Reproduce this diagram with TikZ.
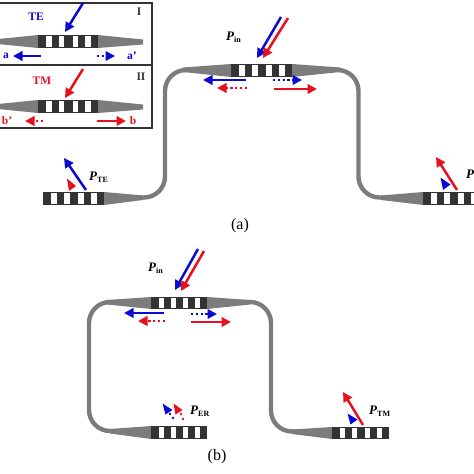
\documentclass[tikz,border=0pt]{standalone}
\usepackage{xcolor}
\usepackage{fontspec}
\setmainfont{Liberation Serif}
\usetikzlibrary{arrows.meta, positioning}
\definecolor{beamte}{HTML}{0A0AD2}
\definecolor{beamtm}{HTML}{E6101E}
\definecolor{guide}{HTML}{7C7C7C}
\definecolor{barcol}{HTML}{333333}
% grating coupler: left x, top y, width, height
\newcommand{\grating}[4]{
  \fill[barcol] (#1,#2) rectangle ++(#3,#4);
  \foreach \slot in {0.135,0.35,0.575,0.79}
    \fill[white] ({#1+\slot*#3},{#2+1}) rectangle ++({0.09*#3},{#4-2});
}
\newcommand{\plabel}[1]{\textbf{\textit{P}}\raisebox{-2.5pt}{\fontsize{8}{9}\selectfont\textbf{#1}}}
\begin{document}
\begin{tikzpicture}[
    x=1pt, y=-1pt,
    taper/.style={fill=guide},
    wave/.style={draw=guide, line width=4.4pt, rounded corners=21pt},
    arrowte/.style={-{Triangle[length=9.5pt,width=9.5pt]}, line width=2.5pt, color=beamte},
    arrowtm/.style={-{Triangle[length=9.5pt,width=9.5pt]}, line width=2.5pt, color=beamtm},
    dotte/.style={arrowte, dash pattern=on 2.2pt off 2.6pt},
    dottm/.style={arrowtm, dash pattern=on 2.2pt off 2.6pt},
    frameline/.style={draw=barcol, line width=1.6pt},
    tag/.style={font=\fontsize{11.5}{13}\selectfont\bfseries, inner sep=0pt},
    plab/.style={font=\fontsize{13}{15}\selectfont, inner sep=0pt},
    caption/.style={font=\fontsize{16}{18}\selectfont, inner sep=0pt}
  ]
    \useasboundingbox (0,0) rectangle (474,474);

    % inset
    \draw[frameline] (-2,3) -- (152,3) -- (152,128) -- (-2,128);
    \draw[frameline] (-2,65) -- (152,65);
    \fill[taper] (38,35) -- (-2,39) -- (-2,44) -- (38,48) -- cycle;
    \fill[taper] (98,35) -- (143,39.5) -- (143,44.5) -- (98,48) -- cycle;
    \grating{38}{35}{60}{13}
    \fill[taper] (38,100) -- (-2,104) -- (-2,109) -- (38,113) -- cycle;
    \fill[taper] (98,100) -- (143,104.5) -- (143,109.5) -- (98,113) -- cycle;
    \grating{38}{100}{60}{13}
    \draw[arrowte] (83,3) -- (65,32);
    \draw[arrowtm] (83,69) -- (65,98);
    \draw[arrowte] (41,56) -- (13,56);
    \draw[dotte] (97,56) -- (115,56);
    \draw[dottm] (43,121) -- (25,121);
    \draw[arrowtm] (97,121) -- (126,121);
    \node[tag, text=beamte] (labelte) at (36,17) {TE};
    \node[tag, text=beamtm] (labeltm) at (42,81) {TM};
    \node[tag, text=barcol] (labeli) at (139,12) {I};
    \node[tag, text=barcol] (labelii) at (141,77) {II};
    \node[tag, text=beamte] (labela) at (6,56) {a};
    \node[tag, text=beamte] (labelap) at (132,56) {a'};
    \node[tag, text=beamtm] (labelbp) at (7,121) {b'};
    \node[tag, text=beamtm] (labelb) at (133,121) {b};

    % device (a)
    \draw[wave] (190,70) -- (165,70) -- (165,197.5) -- (135,197.5);
    \draw[wave] (335,70) -- (358.5,70) -- (358.5,197.5) -- (390,197.5);
    \fill[taper] (231,64) -- (183,67.5) -- (183,72) -- (231,77) -- cycle;
    \fill[taper] (292,64) -- (340,67.5) -- (340,72) -- (292,77) -- cycle;
    \fill[taper] (104,192) -- (143,195.5) -- (143,200) -- (104,205) -- cycle;
    \fill[taper] (423,192) -- (381,195.5) -- (381,200) -- (423,205) -- cycle;
    \grating{231}{64}{61}{13}
    \grating{43}{192}{61}{13}
    \grating{423}{192}{61}{13}
    \draw[arrowte] (281,17) -- (257,58);
    \draw[arrowtm] (288,18) -- (263,58);
    \draw[arrowte] (246,80) -- (203,80);
    \draw[dottm] (247,88) -- (217,88);
    \draw[dotte] (273,80) -- (302,80);
    \draw[arrowtm] (274,89) -- (317,89);
    \draw[arrowte] (86,190) -- (64,158);
    \draw[arrowtm] (457,190) -- (436,157);
    \fill[beamtm] (67,178.5) -- (76,186) -- (69,191) -- cycle;
    \fill[beamte] (440.5,177.5) -- (450.5,184.5) -- (443,190) -- cycle;
    \node[plab, anchor=west] (pina) at (226,37) {\plabel{in}};
    \node[plab, anchor=west] (pte) at (89,177) {\plabel{TE}};
    \node[plab, anchor=west] (ptma) at (466,175) {\plabel{TM}};
    \node[caption] (capa) at (240,226) {(a)};

    % device (b)
    \draw[wave] (115,302) -- (89,302) -- (89,431) -- (118,431);
    \draw[wave] (245,302) -- (271,302) -- (271,431.5) -- (300,431.5);
    \fill[taper] (151,297) -- (107,300) -- (107,304.5) -- (151,309) -- cycle;
    \fill[taper] (207,297) -- (250,300) -- (250,304.5) -- (207,309) -- cycle;
    \fill[taper] (151,426) -- (110,429) -- (110,433.5) -- (151,439) -- cycle;
    \fill[taper] (332,427) -- (292,429.5) -- (292,434) -- (332,439) -- cycle;
    \grating{151}{297}{56}{12}
    \grating{151}{426}{56}{13}
    \grating{332}{427}{57}{12}
    \draw[arrowte] (198,249) -- (175,290);
    \draw[arrowtm] (204,251) -- (181,291);
    \draw[arrowte] (164,313) -- (124,313);
    \draw[dottm] (165,321) -- (138,321);
    \draw[dotte] (191,314) -- (217,314);
    \draw[arrowtm] (191,322) -- (231,322);
    \draw[arrowtm] (363,425) -- (343,392);
    \fill[beamte] (347.5,413.5) -- (357.5,419.5) -- (350.5,424.5) -- cycle;
    \fill[beamte] (162.5,403.5) -- (172.5,410) -- (165.5,414.5) -- cycle;
    \fill[beamtm] (173.5,403.5) -- (182.5,410) -- (175.5,414.5) -- cycle;
    \fill[beamte] (170,414) circle (1.3pt) (173,418) circle (1.3pt);
    \fill[beamtm] (181,414) circle (1.3pt) (183,419) circle (1.3pt);
    \node[plab, anchor=west] (pinb) at (148,268) {\plabel{in}};
    \node[plab, anchor=west] (per) at (190,411) {\plabel{ER}};
    \node[plab, anchor=west] (ptmb) at (369,411) {\plabel{TM}};
    \node[caption] (capb) at (217,457) {(b)};
  \end{tikzpicture}
\end{document}
